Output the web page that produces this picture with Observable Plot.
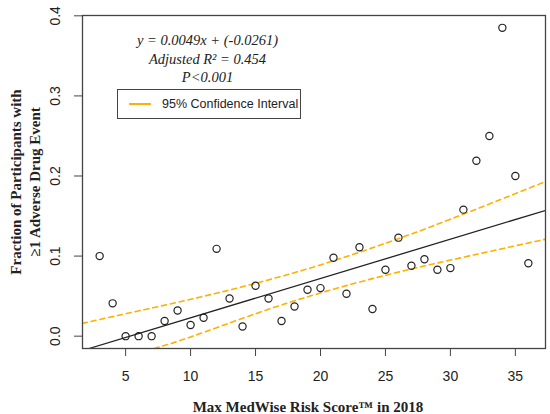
<!DOCTYPE html>
<html>
<head>
<meta charset="utf-8">
<script src="https://cdn.jsdelivr.net/npm/d3@7"></script>
<script src="https://cdn.jsdelivr.net/npm/@observablehq/plot@0.6"></script>
<style>
  body { margin: 0; background: #fff; }
  #chart { position: relative; width: 550px; height: 414px; }
  .leyenda {
    position: absolute; left: 117px; top: 89px; width: 182px; height: 28px;
    border: 1.3px solid #444; background: #fff;
    font: 12.5px "Liberation Sans", Arial, sans-serif; color: #222;
    display: flex; align-items: center;
  }
  .leyenda .muestra { width: 22px; height: 2px; background: #FFB000; margin: 0 11px 0 11px; }
</style>
</head>
<body>
<div id="chart"></div>
<script>
// Puntos: puntuación máxima vs fracción con ≥1 evento adverso
const scoreX = [3, 4, 5, 6, 7, 8, 9, 10, 11, 12, 13, 14, 15, 16, 17, 18, 19, 20,
  21, 22, 23, 24, 25, 26, 27, 28, 29, 30, 31, 32, 33, 34, 35, 36];
const fraction = [0.100, 0.041, 0, 0, 0, 0.019, 0.032, 0.014, 0.023, 0.109, 0.047, 0.012,
  0.063, 0.047, 0.019, 0.037, 0.058, 0.060, 0.098, 0.053, 0.111, 0.034, 0.083, 0.123,
  0.088, 0.096, 0.083, 0.085, 0.158, 0.219, 0.250, 0.385, 0.200, 0.091];

const fitX = [2.18, 37.32];
const fitY = [-0.0154, 0.157];

// Bandas del intervalo de confianza 95%
const upperX = [1.68, 5, 10, 15, 20, 25, 30, 37.32];
const upperY = [0.016, 0.028, 0.046, 0.066, 0.089, 0.116, 0.146, 0.193];
const lowerX = [7.2, 10, 15, 20, 25, 30, 37.32];
const lowerY = [-0.0154, -0.001, 0.028, 0.054, 0.076, 0.095, 0.121];

const xTicks = [5, 10, 15, 20, 25, 30, 35];
const yTicks = [0, 0.1, 0.2, 0.3, 0.4];

const ORANGE = "#FFB000";
const INK = "#222";
const SERIF = "'Liberation Serif', 'Times New Roman', serif";

const puntos = scoreX.map((x, i) => ({ x, y: fraction[i] }));
const recta = fitX.map((x, i) => ({ x, y: fitY[i] }));
const sup = upperX.map((x, i) => ({ x, y: upperY[i] }));
const inf = lowerX.map((x, i) => ({ x, y: lowerY[i] }));

const grafico = Plot.plot({
  width: 550, height: 414,
  marginLeft: 82, marginRight: 5, marginTop: 15, marginBottom: 66,
  style: { fontFamily: "'Liberation Sans', Arial, sans-serif", fontSize: "14px", color: INK, background: "#fff" },
  x: { domain: [1.68, 37.32] },
  y: { domain: [-0.0154, 0.4004] },
  marks: [
    Plot.axisX({ ticks: xTicks, tickSize: 8, tickPadding: 15, label: null, stroke: "#444" }),
    Plot.axisY({ ticks: yTicks, tickSize: 8, tickFormat: () => "", label: null, stroke: "#444" }),
    // etiquetas del eje Y giradas, como en R
    Plot.text(yTicks, {
      y: (d) => d, frameAnchor: "left", dx: -27, rotate: -90,
      text: (d) => d.toFixed(1), textAnchor: "middle", lineAnchor: "middle", fill: INK,
    }),
    // bandas IC
    Plot.line(sup, { x: "x", y: "y", stroke: ORANGE, strokeWidth: 1.6, strokeDasharray: "5 4", curve: "natural", clip: true }),
    Plot.line(inf, { x: "x", y: "y", stroke: ORANGE, strokeWidth: 1.6, strokeDasharray: "5 4", curve: "natural", clip: true }),
    // recta de regresión
    Plot.line(recta, { x: "x", y: "y", stroke: INK, strokeWidth: 1.3, clip: true }),
    Plot.dot(puntos, { x: "x", y: "y", r: 3.6, stroke: INK, strokeWidth: 1.2, fill: "none" }),
    Plot.frame({ stroke: "#444", strokeWidth: 1.3 }),
    // ecuación
    Plot.text(["y = 0.0049x + (-0.0261)"], { text: (d) => d, frameAnchor: "top-left", dx: 125, dy: 25, fontFamily: SERIF, fontStyle: "italic", fontSize: 14.5, fill: INK, textAnchor: "middle", lineAnchor: "middle" }),
    Plot.text(["Adjusted R² = 0.454"], { text: (d) => d, frameAnchor: "top-left", dx: 125, dy: 44, fontFamily: SERIF, fontStyle: "italic", fontSize: 14.5, fill: INK, textAnchor: "middle", lineAnchor: "middle" }),
    Plot.text(["P<0.001"], { text: (d) => d, frameAnchor: "top-left", dx: 125, dy: 62, fontFamily: SERIF, fontStyle: "italic", fontSize: 14.5, fill: INK, textAnchor: "middle", lineAnchor: "middle" }),
    // títulos de ejes
    Plot.text(["Max MedWise Risk Score™ in 2018"], {
      text: (d) => d, frameAnchor: "bottom", dx: -6, dy: 59,
      fontFamily: SERIF, fontWeight: "bold", fontSize: 15, fill: INK, lineAnchor: "middle",
    }),
    Plot.text(["Fraction of Participants with\n≥1 Adverse Drug Event"], {
      text: (d) => d, frameAnchor: "left", dx: -58, rotate: -90,
      fontFamily: SERIF, fontWeight: "bold", fontSize: 15, fill: INK,
      textAnchor: "middle", lineAnchor: "middle", lineHeight: 1.25,
    }),
  ],
});

const host = document.getElementById("chart");
host.appendChild(grafico);
const leyenda = document.createElement("div");
leyenda.className = "leyenda";
leyenda.innerHTML = `<span class="muestra"></span><span>95% Confidence Interval</span>`;
host.appendChild(leyenda);
</script>
</body>
</html>
